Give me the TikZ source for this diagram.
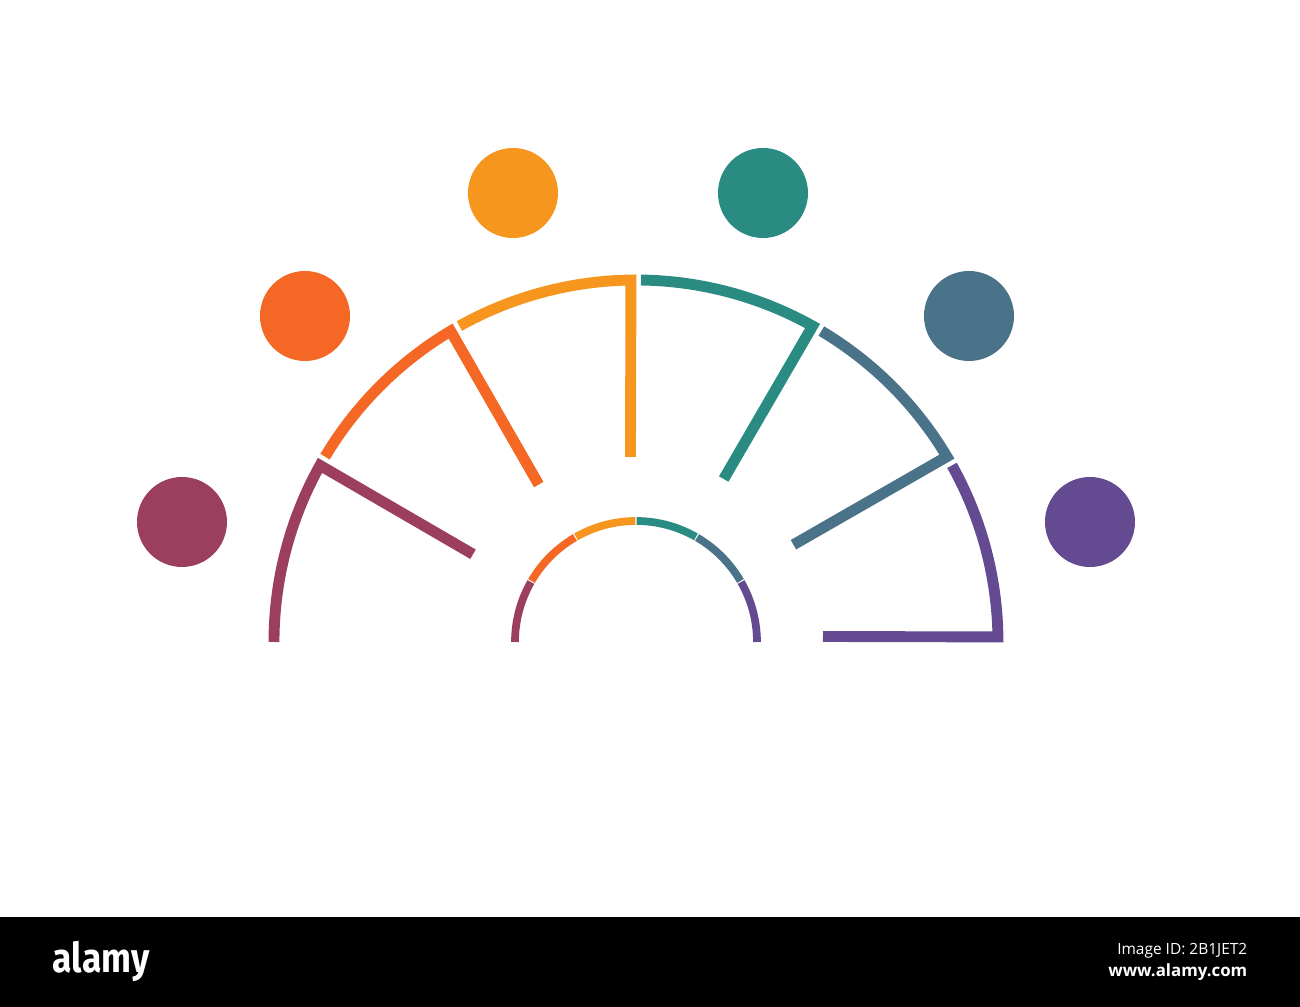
\documentclass[tikz,border=0pt]{standalone}
\usepackage{fontspec}
\setmainfont{Open Sans}
\newfontfamily\logofont{Fira Sans}
\definecolor{segmaroon}{RGB}{156,63,94}
\definecolor{segorange}{RGB}{244,103,36}
\definecolor{segyellow}{RGB}{246,150,30}
\definecolor{segteal}{RGB}{42,139,131}
\definecolor{segslate}{RGB}{74,114,136}
\definecolor{segpurple}{RGB}{100,74,145}
\begin{document}
\begin{tikzpicture}[x=0.1mm, y=0.1mm,
		outer/.style={line width=3.1pt, line join=miter},
		inner/.style={line width=2.2pt},
		bartext/.style={text=white, inner sep=0pt}]
		\useasboundingbox (-636,-365) rectangle (664,642);
		\fill[white] (-636,-365) rectangle (664,642);

		% outer arcs with their radial strokes
		\draw[outer,segmaroon,rotate=150] (30:362) arc[start angle=30,end angle=0.8,radius=362] -- (185,5.5);
		\draw[outer,segorange,rotate=120] (29.2:362) arc[start angle=29.2,end angle=0.8,radius=362] -- (185,5.5);
		\draw[outer,segyellow,rotate=90] (29.2:362) arc[start angle=29.2,end angle=0.8,radius=362] -- (185,5.5);
		\draw[outer,segteal,rotate=60] (29.2:362) arc[start angle=29.2,end angle=0.8,radius=362] -- (185,5.5);
		\draw[outer,segslate,rotate=30] (29.2:362) arc[start angle=29.2,end angle=0.8,radius=362] -- (185,5.5);
		\draw[outer,segpurple] (29.2:362) arc[start angle=29.2,end angle=0.8,radius=362] -- (187,5.5);

		% inner ring
		\draw[inner,segmaroon] (180:121) arc[start angle=180,end angle=150.3,radius=121];
		\draw[inner,segorange] (149.7:121) arc[start angle=149.7,end angle=120.3,radius=121];
		\draw[inner,segyellow] (119.7:121) arc[start angle=119.7,end angle=90.3,radius=121];
		\draw[inner,segteal] (89.7:121) arc[start angle=89.7,end angle=60.3,radius=121];
		\draw[inner,segslate] (59.7:121) arc[start angle=59.7,end angle=30.3,radius=121];
		\draw[inner,segpurple] (29.7:121) arc[start angle=29.7,end angle=0,radius=121];

		% dots
		\fill[segmaroon] (-454,120) circle (45);
		\fill[segorange] (-331,326) circle (45);
		\fill[segyellow] (-123,449) circle (45);
		\fill[segteal] (127,449) circle (45);
		\fill[segslate] (333,326) circle (45);
		\fill[segpurple] (454,120) circle (45);

		% footer bar
		\fill[black] (-636,-365) rectangle (664,-275);
		\node[bartext, anchor=base west, font=\logofont\bfseries\fontsize{11.7}{12}\selectfont] (logo) at (-584,-331) {\scalebox{0.86}[1]{alamy}};
		\node[bartext, anchor=base east, font=\fontsize{4.4}{5}\selectfont] (imageid) at (612,-313) {Image ID: 2B1JET2};
		\node[bartext, anchor=base east, font=\bfseries\fontsize{4.8}{5}\selectfont] (site) at (612,-335) {www.alamy.com};
	\end{tikzpicture}
\end{document}
